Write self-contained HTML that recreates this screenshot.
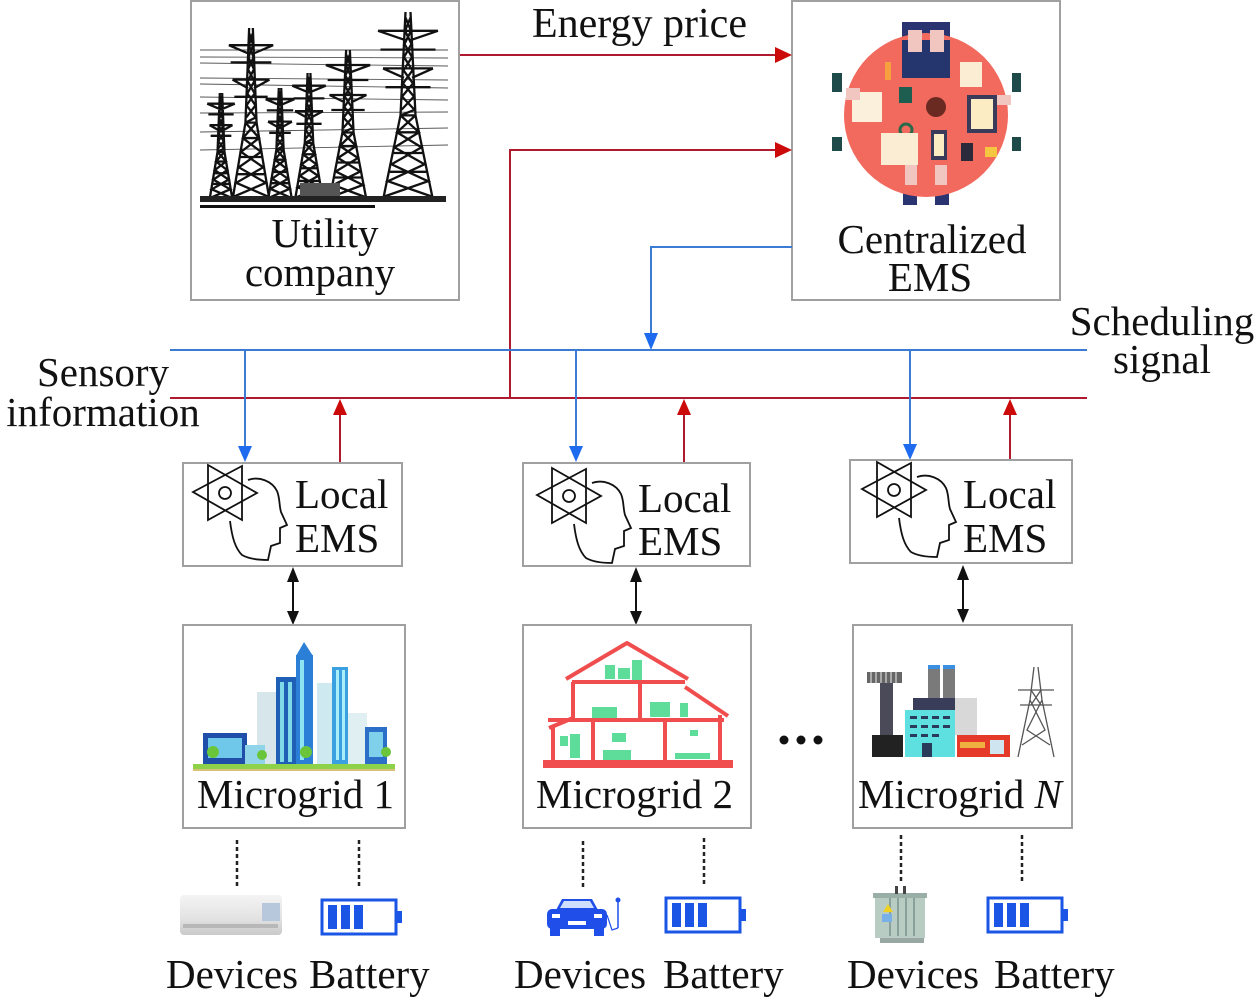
<!DOCTYPE html>
<html><head><meta charset="utf-8"><style>
html,body{margin:0;padding:0;background:#fff;}
svg{display:block;}
text{font-family:"Liberation Serif",serif;font-size:41px;fill:#111;}
</style></head><body>
<svg width="1260" height="1004" viewBox="0 0 1260 1004" xmlns="http://www.w3.org/2000/svg">
<defs>
<path id="tw" d="M-0.05,0 L-0.15,0.55 L-0.5,1 M0.05,0 L0.15,0.55 L0.5,1 M-0.05,0.03 L0.06,0.1 L-0.07,0.17 L0.08,0.24 L-0.09,0.31 L0.1,0.38 L-0.12,0.45 L0.13,0.52 L-0.15,0.55 M0.05,0.03 L-0.06,0.1 L0.07,0.17 L-0.08,0.24 L0.09,0.31 L-0.1,0.38 L0.12,0.45 L-0.13,0.52 M-0.15,0.55 L0.22,0.64 L-0.27,0.72 L0.33,0.81 L-0.4,0.9 L0.46,0.98 M0.15,0.55 L-0.22,0.64 L0.27,0.72 L-0.33,0.81 L0.4,0.9 L-0.46,0.98 M-0.6,0.1 L0.6,0.1 M-0.55,0.2 L0.55,0.2 M-0.5,0.3 L0.5,0.3 M-0.45,0.4 L0.45,0.4 M-0.15,0.55 L0.15,0.55 M-0.3,0.75 L0.3,0.75 M-0.2,0.64 L0.2,0.64 M-0.37,0.85 L0.37,0.85 M-0.6,0.1 L-0.05,0.15 M0.6,0.1 L0.05,0.15 M-0.5,0.3 L-0.08,0.35 M0.5,0.3 L0.08,0.35" fill="none" stroke="#111" stroke-width="2.3" vector-effect="non-scaling-stroke"/>
<g id="brain">
<polygon points="25,2 74,30 25,57" fill="none" stroke="#111" stroke-width="1.8"/>
<polygon points="59,3 10,29 59,57" fill="none" stroke="#111" stroke-width="1.8"/>
<circle cx="42" cy="30" r="6" fill="none" stroke="#111" stroke-width="1.8"/>
<path d="M65,17 C76,13 89,18 94,28 C97,35 96,42 98,49 L104,62 L97,65 L97,80 L88,83 L85,97 C75,97 66,96 59,92 C52,85 49,74 47,58" fill="none" stroke="#111" stroke-width="1.8"/>
</g>
<g id="batt">
<rect x="0" y="0" width="74" height="34" fill="#fff" stroke="#1a55e6" stroke-width="3"/>
<rect x="74" y="11" width="6" height="12" fill="#1a55e6"/>
<rect x="6" y="5" width="9" height="24" fill="#1a55e6"/>
<rect x="19" y="5" width="9" height="24" fill="#1a55e6"/>
<rect x="32" y="5" width="9" height="24" fill="#1a55e6"/>
</g>
<linearGradient id="acg" x1="0" y1="0" x2="0" y2="1"><stop offset="0" stop-color="#f4f4f4"/><stop offset="0.6" stop-color="#e2e2e2"/><stop offset="1" stop-color="#c9c9c9"/></linearGradient>
</defs>

<!-- Utility company box -->
<rect x="191" y="1" width="268" height="299" fill="#fff" stroke="#a0a0a0" stroke-width="2"/>
<g stroke="#555" stroke-width="0.9">
<line x1="200" y1="50" x2="448" y2="50"/><line x1="200" y1="57" x2="448" y2="58"/>
<line x1="200" y1="63" x2="448" y2="66"/><line x1="200" y1="78" x2="448" y2="80"/>
<line x1="200" y1="84" x2="448" y2="88"/><line x1="200" y1="97" x2="448" y2="100"/>
<line x1="200" y1="113" x2="448" y2="112"/><line x1="200" y1="132" x2="448" y2="128"/>
<line x1="200" y1="150" x2="448" y2="145"/>
</g>
<use href="#tw" transform="translate(221,93) scale(23,107)"/>
<use href="#tw" transform="translate(251,28) scale(37,172)"/>
<use href="#tw" transform="translate(280,88) scale(24,112)"/>
<use href="#tw" transform="translate(309,73) scale(28,127)"/>
<use href="#tw" transform="translate(348,50) scale(37,150)"/>
<use href="#tw" transform="translate(408,12) scale(50,188)"/>
<rect x="200" y="196" width="246" height="6" fill="#222"/>
<rect x="300" y="183" width="40" height="13" fill="#555"/>
<rect x="200" y="205" width="175" height="3" fill="#111"/>
<text x="325" y="247" text-anchor="middle">Utility</text>
<text x="320" y="286" text-anchor="middle">company</text>

<!-- Centralized EMS box -->
<rect x="792" y="1" width="268" height="299" fill="#fff" stroke="#a0a0a0" stroke-width="2"/>
<rect x="902" y="22" width="48" height="30" fill="#2a3470"/>
<rect x="832" y="73" width="10" height="19" fill="#1f4a4a"/>
<rect x="832" y="137" width="10" height="14" fill="#1f4a4a"/>
<rect x="1012" y="73" width="9" height="19" fill="#1f4a4a"/>
<rect x="1012" y="137" width="9" height="14" fill="#1f4a4a"/>
<rect x="903" y="182" width="14" height="23" fill="#2a3470"/>
<rect x="935" y="182" width="14" height="23" fill="#2a3470"/>
<circle cx="926" cy="115" r="82" fill="#f26a5e"/>
<rect x="902" y="40" width="48" height="38" fill="#25366e"/>
<rect x="908" y="30" width="14" height="22" fill="#f2c6c0"/>
<rect x="930" y="30" width="14" height="22" fill="#f2c6c0"/>
<rect x="960" y="62" width="22" height="25" fill="#fbecd4"/>
<rect x="852" y="92" width="30" height="30" fill="#fbf0dc"/>
<rect x="846" y="88" width="14" height="12" fill="#f2c6c0"/>
<rect x="967" y="95" width="30" height="38" fill="#3a3a5a"/>
<rect x="971" y="99" width="22" height="30" fill="#fbecc4"/>
<rect x="997" y="95" width="14" height="10" fill="#f2c6c0"/>
<rect x="899" y="87" width="13" height="16" fill="#1e5e50"/>
<circle cx="936" cy="107" r="10" fill="#6a2a22"/>
<circle cx="906" cy="130" r="6" fill="none" stroke="#2a6a4a" stroke-width="3"/>
<rect x="881" y="133" width="37" height="32" fill="#fbecd4"/>
<rect x="931" y="130" width="16" height="30" fill="#3a3a5a"/>
<rect x="934" y="134" width="10" height="22" fill="#fbecc4"/>
<rect x="961" y="143" width="12" height="18" fill="#2a2a3a"/>
<rect x="985" y="147" width="12" height="10" fill="#f6c640"/>
<rect x="905" y="165" width="12" height="20" fill="#f2c6c0"/>
<rect x="935" y="165" width="12" height="20" fill="#f2c6c0"/>
<rect x="885" y="62" width="6" height="18" fill="#f6a040"/>
<text x="932" y="253" text-anchor="middle">Centralized</text>
<text x="930" y="291" text-anchor="middle">EMS</text>

<!-- Energy price arrow -->
<text x="532" y="37" style="font-size:42px">Energy price</text>
<line x1="460" y1="55" x2="778" y2="55" stroke="#b01a2e" stroke-width="2"/>
<polygon points="775,47 792,55 775,63" fill="#cc0a0a"/>

<!-- red path from bus to EMS -->
<polyline points="510,398 510,150 778,150" fill="none" stroke="#b01a2e" stroke-width="2"/>
<polygon points="775,142 792,150 775,158" fill="#cc0a0a"/>

<!-- blue from EMS to bus -->
<polyline points="792,247 651,247 651,336" fill="none" stroke="#3b7bd4" stroke-width="2"/>
<polygon points="644,333 658,333 651,350" fill="#1f6bf0"/>

<!-- buses -->
<line x1="170" y1="350" x2="1087" y2="350" stroke="#3b7bd4" stroke-width="2"/>
<line x1="170" y1="398" x2="1087" y2="398" stroke="#b01a2e" stroke-width="2"/>

<text x="103" y="386" text-anchor="middle">Sensory</text>
<text x="103" y="426" text-anchor="middle">information</text>
<text x="1162" y="335" text-anchor="middle">Scheduling</text>
<text x="1162" y="373" text-anchor="middle">signal</text>

<!-- blue down arrows -->
<g stroke="#3b7bd4" stroke-width="2">
<line x1="245" y1="350" x2="245" y2="448"/>
<line x1="576" y1="350" x2="576" y2="448"/>
<line x1="910" y1="350" x2="910" y2="446"/>
</g>
<g fill="#1f6bf0">
<polygon points="238,446 252,446 245,462"/>
<polygon points="569,446 583,446 576,462"/>
<polygon points="903,444 917,444 910,460"/>
</g>
<!-- red up arrows -->
<g stroke="#b01a2e" stroke-width="2">
<line x1="340" y1="462" x2="340" y2="412"/>
<line x1="684" y1="462" x2="684" y2="412"/>
<line x1="1010" y1="460" x2="1010" y2="412"/>
</g>
<g fill="#cc0a0a">
<polygon points="333,415 347,415 340,399"/>
<polygon points="677,415 691,415 684,399"/>
<polygon points="1003,415 1017,415 1010,399"/>
</g>

<!-- Local EMS boxes -->
<rect x="183" y="463" width="219" height="103" fill="#fff" stroke="#a0a0a0" stroke-width="2"/>
<use href="#brain" transform="translate(183,463)"/>
<text x="295" y="508">Local</text><text x="295" y="552">EMS</text>

<rect x="523" y="463" width="227" height="103" fill="#fff" stroke="#a0a0a0" stroke-width="2"/>
<use href="#brain" transform="translate(527,466)"/>
<text x="638" y="512">Local</text><text x="638" y="555">EMS</text>

<rect x="850" y="460" width="222" height="103" fill="#fff" stroke="#a0a0a0" stroke-width="2"/>
<use href="#brain" transform="translate(852,460)"/>
<text x="963" y="508">Local</text><text x="963" y="552">EMS</text>

<!-- bidirectional arrows -->
<g stroke="#111" stroke-width="2">
<line x1="293" y1="578" x2="293" y2="614"/>
<line x1="636" y1="578" x2="636" y2="614"/>
<line x1="963" y1="576" x2="963" y2="612"/>
</g>
<g fill="#111">
<polygon points="287,582 299,582 293,567"/><polygon points="287,611 299,611 293,625"/>
<polygon points="630,582 642,582 636,567"/><polygon points="630,611 642,611 636,625"/>
<polygon points="957,580 969,580 963,565"/><polygon points="957,609 969,609 963,623"/>
</g>

<!-- Microgrid 1 -->
<rect x="183" y="625" width="222" height="203" fill="#fff" stroke="#a0a0a0" stroke-width="2"/>
<rect x="257" y="692" width="20" height="75" fill="#d6e6ea"/>
<rect x="276" y="677" width="20" height="90" fill="#1f5fb5"/>
<rect x="280" y="682" width="4" height="80" fill="#7fd9e8"/><rect x="288" y="682" width="4" height="80" fill="#7fd9e8"/>
<rect x="296" y="655" width="17" height="112" fill="#2b7fd6"/>
<polygon points="296,656 304,642 313,656" fill="#2b7fd6"/>
<rect x="300" y="660" width="4" height="100" fill="#8ee4f0"/>
<rect x="317" y="683" width="16" height="84" fill="#cfe9f0"/>
<rect x="332" y="667" width="16" height="100" fill="#3aa0e0"/>
<rect x="336" y="670" width="3" height="90" fill="#a9eef8"/><rect x="342" y="670" width="3" height="90" fill="#a9eef8"/>
<rect x="348" y="713" width="19" height="54" fill="#dfeff2"/>
<rect x="365" y="727" width="22" height="40" fill="#2b6fc8"/>
<rect x="369" y="732" width="14" height="25" fill="#7fd0ea"/>
<rect x="203" y="733" width="44" height="34" fill="#1f4fa8"/>
<rect x="208" y="738" width="34" height="20" fill="#6fc8ea"/>
<rect x="245" y="745" width="20" height="22" fill="#8fd4e8"/>
<g fill="#6bc53a">
<circle cx="213" cy="752" r="6"/><circle cx="262" cy="755" r="5"/><circle cx="306" cy="752" r="6"/><circle cx="386" cy="752" r="5"/>
</g>
<rect x="193" y="764" width="202" height="5" fill="#8ed24a"/>
<rect x="193" y="769" width="202" height="2" fill="#d8c27a"/>
<text x="197" y="808">Microgrid 1</text>

<!-- Microgrid 2 -->
<rect x="523" y="625" width="228" height="203" fill="#fff" stroke="#a0a0a0" stroke-width="2"/>
<g fill="#5edc9a">
<rect x="605" y="665" width="10" height="14"/><rect x="618" y="668" width="12" height="11"/><rect x="632" y="660" width="10" height="20"/>
<rect x="592" y="707" width="25" height="11"/><rect x="650" y="702" width="20" height="15"/><rect x="680" y="703" width="8" height="14"/>
<rect x="560" y="736" width="8" height="10"/><rect x="570" y="734" width="10" height="24"/>
<rect x="603" y="750" width="28" height="10"/><rect x="612" y="733" width="14" height="9"/>
<rect x="675" y="753" width="35" height="6"/><rect x="690" y="730" width="8" height="6"/>
</g>
<g fill="none" stroke="#f04e4e" stroke-width="4" stroke-linejoin="round">
<polyline points="566,679 627,643 688,679"/>
<line x1="572" y1="682" x2="685" y2="682"/>
<line x1="685" y1="687" x2="728" y2="716"/>
<line x1="573" y1="682" x2="573" y2="720"/>
<line x1="640" y1="682" x2="640" y2="720"/>
<line x1="548" y1="720" x2="724" y2="720"/>
<line x1="573" y1="718" x2="549" y2="728"/>
<line x1="553" y1="725" x2="553" y2="762"/>
<line x1="593" y1="720" x2="593" y2="762"/>
<line x1="665" y1="720" x2="665" y2="762"/>
<line x1="720" y1="715" x2="720" y2="762"/>
</g>
<rect x="543" y="760" width="190" height="8" fill="#f04e4e"/>
<text x="536" y="808">Microgrid 2</text>

<!-- dots -->
<g fill="#111"><circle cx="784" cy="740" r="4.5"/><circle cx="801" cy="740" r="4.5"/><circle cx="818" cy="740" r="4.5"/></g>

<!-- Microgrid N -->
<rect x="853" y="625" width="219" height="203" fill="#fff" stroke="#a0a0a0" stroke-width="2"/>
<rect x="867" y="672" width="35" height="11" fill="#666"/>
<g stroke="#eee" stroke-width="1"><line x1="871" y1="672" x2="871" y2="683"/><line x1="876" y1="672" x2="876" y2="683"/><line x1="881" y1="672" x2="881" y2="683"/><line x1="886" y1="672" x2="886" y2="683"/><line x1="891" y1="672" x2="891" y2="683"/><line x1="896" y1="672" x2="896" y2="683"/></g>
<rect x="880" y="683" width="13" height="52" fill="#4a4a58"/>
<rect x="872" y="735" width="31" height="22" fill="#222"/>
<rect x="928" y="668" width="12" height="30" fill="#7a7a7a"/>
<rect x="943" y="668" width="12" height="30" fill="#7a7a7a"/>
<rect x="928" y="665" width="12" height="4" fill="#3a8fe0"/>
<rect x="943" y="665" width="12" height="4" fill="#3a8fe0"/>
<rect x="913" y="698" width="64" height="12" fill="#3a3d5a"/>
<rect x="955" y="698" width="22" height="37" fill="#d8d8d8"/>
<rect x="905" y="710" width="50" height="47" fill="#5fe0e0"/>
<g fill="#2a3a5a">
<rect x="910" y="716" width="7" height="3"/><rect x="921" y="716" width="7" height="3"/><rect x="932" y="716" width="7" height="3"/><rect x="943" y="716" width="7" height="3"/>
<rect x="910" y="725" width="7" height="3"/><rect x="921" y="725" width="7" height="3"/><rect x="932" y="725" width="7" height="3"/><rect x="943" y="725" width="7" height="3"/>
<rect x="910" y="734" width="7" height="3"/><rect x="921" y="734" width="7" height="3"/><rect x="932" y="734" width="7" height="3"/>
<rect x="922" y="743" width="10" height="14"/>
</g>
<rect x="957" y="735" width="53" height="22" fill="#e53a2a"/>
<rect x="960" y="742" width="25" height="6" fill="#f0b040"/>
<rect x="990" y="740" width="14" height="14" fill="#cfe6f0"/>
<g fill="none" stroke="#555" stroke-width="1.3">
<path d="M1034,667 L1030,700 L1018,757 M1038,667 L1042,700 L1054,757 M1018,690 L1054,690 M1020,705 L1052,705 M1031,690 L1041,705 M1041,690 L1031,705 M1030,700 L1045,730 L1022,745 M1042,700 L1027,730 L1050,745"/>
</g>
<text x="858" y="808">Microgrid <tspan font-style="italic">N</tspan></text>

<!-- dotted lines -->
<g stroke="#222" stroke-width="2.5" stroke-dasharray="4 3">
<line x1="237" y1="840" x2="237" y2="888"/>
<line x1="359" y1="840" x2="359" y2="888"/>
<line x1="583" y1="841" x2="583" y2="888"/>
<line x1="704" y1="838" x2="704" y2="886"/>
<line x1="901" y1="835" x2="901" y2="883"/>
<line x1="1022" y1="835" x2="1022" y2="883"/>
</g>

<!-- devices -->
<rect x="180" y="895" width="102" height="40" rx="4" fill="url(#acg)"/>
<rect x="183" y="924" width="95" height="4" fill="#b8b8b8"/>
<rect x="262" y="903" width="18" height="18" fill="#b8c8dc"/>
<use href="#batt" transform="translate(322,900)"/>

<g fill="#1f4fe8">
<polygon points="556,910 562,899 592,899 598,910"/>
<rect x="547" y="909" width="60" height="20" rx="5"/>
<rect x="550" y="927" width="10" height="9"/><rect x="594" y="927" width="10" height="9"/>
</g>
<polygon points="560,908 564,901 590,901 594,908" fill="#cfe0ff"/>
<rect x="552" y="914" width="8" height="4" fill="#fff"/><rect x="594" y="914" width="8" height="4" fill="#fff"/>
<rect x="568" y="921" width="18" height="4" fill="#fff"/>
<line x1="618" y1="901" x2="618" y2="928" stroke="#1f4fe8" stroke-width="1.5"/>
<circle cx="618" cy="900" r="2.5" fill="#1f4fe8"/>
<polyline points="607,915 612,930 618,928" fill="none" stroke="#1f4fe8" stroke-width="1.2"/>
<use href="#batt" transform="translate(666,898)"/>

<rect x="875" y="896" width="50" height="42" fill="#b8ccc4"/>
<g stroke="#8aa09a" stroke-width="2"><line x1="890" y1="898" x2="890" y2="936"/><line x1="898" y1="898" x2="898" y2="936"/><line x1="906" y1="898" x2="906" y2="936"/><line x1="914" y1="898" x2="914" y2="936"/></g>
<rect x="873" y="893" width="54" height="5" fill="#9aaea8"/>
<rect x="895" y="886" width="3" height="8" fill="#444"/><rect x="903" y="886" width="3" height="8" fill="#444"/>
<polygon points="883,912 888,904 893,912" fill="#f0d020"/>
<rect x="882" y="914" width="10" height="8" fill="#7ab0e8"/>
<rect x="880" y="938" width="44" height="5" fill="#9aa8a4"/>
<use href="#batt" transform="translate(988,898)"/>

<!-- bottom labels -->
<text x="166" y="988">Devices</text><text x="309" y="988">Battery</text>
<text x="514" y="988">Devices</text><text x="663" y="988">Battery</text>
<text x="847" y="988">Devices</text><text x="994" y="988">Battery</text>
</svg>
</body></html>
